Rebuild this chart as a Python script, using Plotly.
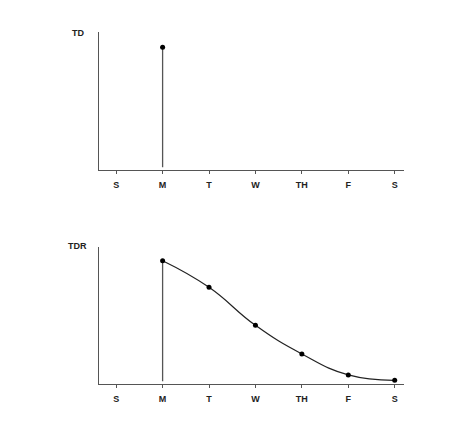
import plotly.graph_objects as go

days = ["S", "M", "T", "W", "TH", "F", "S"]
day_pos = [0, 1, 2, 3, 4, 5, 6]

# top panel: single spike on Monday
td_day = 1
td_value = 0.89

# bottom panel: decay from Monday to Saturday
tdr_pos = [1, 2, 3, 4, 5, 6]
tdr_values = [0.90, 0.706, 0.428, 0.219, 0.066, 0.027]

stem_base = 0.02
axis_col = "#555555"
font = dict(family="Liberation Sans, Arial, sans-serif", size=9, color="#222222", weight="bold")

fig = go.Figure()

# TD stem + dot
fig.add_trace(go.Scatter(x=[td_day, td_day], y=[stem_base, td_value], mode="lines",
                         line=dict(color=axis_col, width=1.3), xaxis="x", yaxis="y",
                         hoverinfo="skip"))
fig.add_trace(go.Scatter(x=[td_day], y=[td_value], mode="markers",
                         marker=dict(color="black", size=5), xaxis="x", yaxis="y"))

# TDR stem + curve
fig.add_trace(go.Scatter(x=[tdr_pos[0], tdr_pos[0]], y=[stem_base, tdr_values[0]], mode="lines",
                         line=dict(color=axis_col, width=1.3), xaxis="x2", yaxis="y2",
                         hoverinfo="skip"))
fig.add_trace(go.Scatter(x=tdr_pos, y=tdr_values, mode="lines+markers",
                         line=dict(color="#222222", width=1.2, shape="spline", smoothing=1.3),
                         marker=dict(color="black", size=5), xaxis="x2", yaxis="y2"))

xax = dict(range=[-0.37, 6.2], tickmode="array", tickvals=day_pos, ticktext=days,
           showline=True, linecolor=axis_col, linewidth=1.3, ticks="outside",
           ticklen=3, tickcolor=axis_col, showgrid=False, zeroline=False,
           tickfont=font, ticklabelstandoff=3, fixedrange=True)
yax = dict(range=[0, 1], showline=True, linecolor=axis_col, linewidth=1.3,
           showticklabels=False, ticks="", showgrid=False, zeroline=False)

# page has an 8px body margin, so the figure is a bit smaller than the window
fig.update_layout(
    width=458, height=421,
    margin=dict(l=0, r=0, t=0, b=0),
    plot_bgcolor="white", paper_bgcolor="white",
    showlegend=False,
    xaxis=dict(xax, domain=[0.1987, 0.8646], anchor="y"),
    yaxis=dict(yax, domain=[0.6152, 0.9430], anchor="x"),
    xaxis2=dict(xax, domain=[0.1987, 0.8646], anchor="y2"),
    yaxis2=dict(yax, domain=[0.1069, 0.4323], anchor="x2"),
    annotations=[
        dict(text="TD", x=0.1528, y=0.9406, xref="paper", yref="paper",
             xanchor="center", yanchor="middle", showarrow=False, font=font),
        dict(text="TDR", x=0.1528, y=0.4347, xref="paper", yref="paper",
             xanchor="center", yanchor="middle", showarrow=False, font=font),
    ],
)

fig.write_html("out.html")
